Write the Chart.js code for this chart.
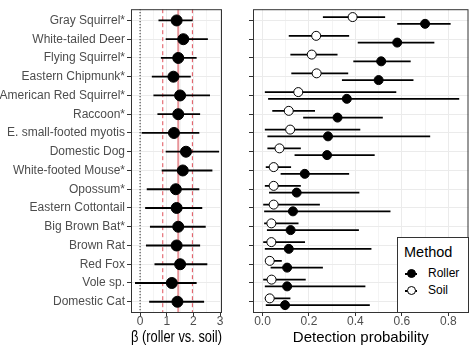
<!DOCTYPE html>
<html>
<head>
<meta charset="utf-8">
<script src="https://cdn.jsdelivr.net/npm/chart.js@4/dist/chart.umd.min.js"></script>
<style>
  body { margin: 0; background: #fff; width: 474px; height: 347px; overflow: hidden; position: relative;
         font-family: "Liberation Sans", Arial, sans-serif; }
  #left { position: absolute; left: 0; top: 0; }
  #right { position: absolute; left: 240px; top: 0; }
  #legend { position: absolute; left: 397px; top: 237px; width: 70px; height: 74px; border: 1px solid #333;
            background: #fff; }
  #legend .title { position: absolute; left: 6px; top: 6px; font-size: 14.5px; color: #000; }
  #legend .item { position: absolute; left: 30px; font-size: 12px; color: #000; }
  #legend .ln { position: absolute; left: 7px; width: 12px; height: 1.5px; background: #000; }
  #legend .dot { position: absolute; left: 9px; width: 7px; height: 7px; border-radius: 50%; border: 1px solid #000; }
</style>
</head>
<body>
<canvas id="left" width="232" height="347"></canvas>
<canvas id="right" width="234" height="347"></canvas>
<div id="legend">
  <div class="title">Method</div>
  <div class="ln" style="top:35px"></div><div class="dot" style="top:31px;background:#000"></div>
  <div class="item" style="top:28px">Roller</div>
  <div class="ln" style="top:52px"></div><div class="dot" style="top:48px;background:#fff"></div>
  <div class="item" style="top:45px">Soil</div>
</div>
<script>
const species = ['Gray Squirrel*', 'White-tailed Deer', 'Flying Squirrel*', 'Eastern Chipmunk*',
  'American Red Squirrel*', 'Raccoon*', 'E. small-footed myotis', 'Domestic Dog', 'White-footed Mouse*',
  'Opossum*', 'Eastern Cottontail', 'Big Brown Bat*', 'Brown Rat', 'Red Fox', 'Vole sp.', 'Domestic Cat'];

// beta (roller vs. soil)
const betaEst = [1.37, 1.62, 1.43, 1.25, 1.5, 1.43, 1.27, 1.72, 1.6, 1.34, 1.37, 1.43, 1.37, 1.5, 1.19, 1.4];
const betaLo  = [0.69, 0.96, 0.78, 0.44, 0.5, 0.65, 0.06, 0.96, 0.81, 0.25, 0.19, 0.37, 0.22, 0.54, -0.19, 0.34];
const betaHi  = [1.97, 2.54, 2.12, 1.9, 2.62, 2.25, 2.22, 2.96, 2.71, 2.22, 2.33, 2.46, 2.25, 2.52, 2.12, 2.4];
const betaMean = 1.43;
const betaBand = [0.85, 1.96];
const betaTicks = [0, 0.5, 1, 1.5, 2, 2.5, 3];

// detection probability
const rollerEst = [0.70, 0.58, 0.511, 0.50, 0.363, 0.323, 0.282, 0.278, 0.182, 0.147, 0.131, 0.121, 0.113, 0.106, 0.106, 0.097];
const rollerLo  = [0.58, 0.41, 0.391, 0.342, 0.024, 0.175, 0.021, 0.138, 0.078, 0.028, 0.007, 0.019, 0.01, 0.035, 0.01, 0.014];
const rollerHi  = [0.81, 0.74, 0.638, 0.65, 0.847, 0.518, 0.722, 0.483, 0.373, 0.417, 0.551, 0.415, 0.469, 0.26, 0.443, 0.462];
const soilEst = [0.388, 0.231, 0.212, 0.233, 0.154, 0.113, 0.119, 0.073, 0.048, 0.048, 0.048, 0.038, 0.038, 0.031, 0.039, 0.031];
const soilLo  = [0.26, 0.113, 0.12, 0.124, 0.01, 0.042, 0.01, 0.021, 0.014, 0.01, 0.003, 0.007, 0.003, 0.014, 0.003, 0.01];
const soilHi  = [0.528, 0.373, 0.323, 0.369, 0.576, 0.226, 0.421, 0.165, 0.123, 0.165, 0.247, 0.155, 0.183, 0.083, 0.186, 0.12];
const probTicks = [0, 0.1, 0.2, 0.3, 0.4, 0.5, 0.6, 0.7, 0.8];

Chart.defaults.font.family = "'Liberation Sans', Arial, sans-serif";
Chart.defaults.font.size = 12;
Chart.defaults.color = '#4d4d4d';

const dodge = 0.18;

// reference lines + interval segments, then panel border
function intervals(refs, bars) {
  return {
    id: 'intervals',
    beforeDatasetsDraw(chart) {
      const {ctx, chartArea: a, scales: {x, y}} = chart;
      ctx.save();
      ctx.beginPath(); ctx.rect(a.left, a.top, a.width, a.height); ctx.clip();
      refs.forEach(r => {
        const px = x.getPixelForValue(r.value);
        ctx.strokeStyle = r.color; ctx.lineWidth = r.width; ctx.setLineDash(r.dash);
        ctx.beginPath(); ctx.moveTo(px, a.top); ctx.lineTo(px, a.bottom); ctx.stroke();
      });
      ctx.setLineDash([]);
      bars.forEach(b => {
        ctx.strokeStyle = '#000'; ctx.lineWidth = b.width;
        b.lo.forEach((lo, i) => {
          const py = y.getPixelForValue(i + b.offset);
          ctx.beginPath();
          ctx.moveTo(x.getPixelForValue(lo), py);
          ctx.lineTo(x.getPixelForValue(b.hi[i]), py);
          ctx.stroke();
        });
      });
      ctx.restore();
    },
    afterDraw(chart) {
      const {ctx, chartArea: a} = chart;
      ctx.save();
      ctx.strokeStyle = '#333'; ctx.lineWidth = 1;
      ctx.strokeRect(a.left + 0.5, a.top + 0.5, a.width - 1, a.height - 1);
      ctx.restore();
    }
  };
}

function yScale(withLabels) {
  return {
    type: 'linear', min: -0.6, max: 15.6, reverse: true,
    afterBuildTicks: s => { s.ticks = species.map((_, i) => ({value: i})); },
    afterFit: s => { s.width = withLabels ? 131 : 13; },
    ticks: {
      autoSkip: false, padding: 2, color: '#4d4d4d', font: {size: 12},
      callback: v => withLabels ? species[v] : ''
    },
    grid: {color: '#ebebeb', lineWidth: 1, tickLength: 4, tickColor: '#333'},
    border: {display: false}
  };
}

function xScale(min, max, tickVals, isMajor, fmt, title, titleSize) {
  return {
    type: 'linear', min: min, max: max,
    afterBuildTicks: s => { s.ticks = tickVals.map(v => ({value: v})); },
    afterFit: s => { s.height = 34; },
    ticks: {
      autoSkip: false, maxRotation: 0, padding: -2, color: '#4d4d4d', font: {size: 12},
      callback: v => isMajor(v) ? fmt(v) : ''
    },
    grid: {
      color: c => isMajor(c.tick.value) ? '#ebebeb' : '#f4f4f4',
      lineWidth: 1, tickLength: 3,
      tickColor: c => isMajor(c.tick.value) ? '#333' : 'rgba(0,0,0,0)'
    },
    border: {display: false},
    title: {display: true, text: title, color: '#000', font: {size: titleSize}, padding: {top: 0, bottom: 0}}
  };
}

new Chart(document.getElementById('left'), {
  type: 'scatter',
  data: {
    datasets: [{
      data: betaEst.map((v, i) => ({x: v, y: i})),
      backgroundColor: '#000', borderColor: '#000', pointRadius: 5.5, borderWidth: 1
    }]
  },
  options: {
    responsive: false, animation: false,
    layout: {padding: {top: 1, right: 10, bottom: 0, left: 0}},
    plugins: {legend: {display: false}, tooltip: {enabled: false}},
    scales: {
      x: xScale(-0.34, 3.07, betaTicks, v => v % 1 === 0, v => String(v), 'β (roller vs. soil)', 16.5),
      y: yScale(true)
    }
  },
  plugins: [intervals(
    [{value: 0, color: '#000', width: 1, dash: [1, 2]},
     {value: betaMean, color: '#e8959a', width: 2, dash: []},
     {value: betaBand[0], color: '#e0505a', width: 1, dash: [4, 3]},
     {value: betaBand[1], color: '#e0505a', width: 1, dash: [4, 3]}],
    [{lo: betaLo, hi: betaHi, offset: 0, width: 1.8}]
  )]
});

const probMajor = v => Math.abs(v * 5 - Math.round(v * 5)) < 1e-6;

new Chart(document.getElementById('right'), {
  type: 'scatter',
  data: {
    datasets: [{
      label: 'Roller',
      data: rollerEst.map((v, i) => ({x: v, y: i + dodge})),
      backgroundColor: '#000', borderColor: '#000', pointRadius: 4.5, borderWidth: 1
    }, {
      label: 'Soil',
      data: soilEst.map((v, i) => ({x: v, y: i - dodge})),
      backgroundColor: '#fff', borderColor: '#000', pointRadius: 4.5, borderWidth: 1
    }]
  },
  options: {
    responsive: false, animation: false,
    layout: {padding: {top: 1, right: 1, bottom: 0, left: 0}},
    plugins: {legend: {display: false}, tooltip: {enabled: false}},
    scales: {
      x: xScale(-0.041, 0.887, probTicks, probMajor, v => v.toFixed(1), 'Detection probability', 15),
      y: yScale(false)
    }
  },
  plugins: [intervals([], [
    {lo: rollerLo, hi: rollerHi, offset: dodge, width: 1.8},
    {lo: soilLo, hi: soilHi, offset: -dodge, width: 1.8}
  ])]
});
</script>
</body>
</html>
